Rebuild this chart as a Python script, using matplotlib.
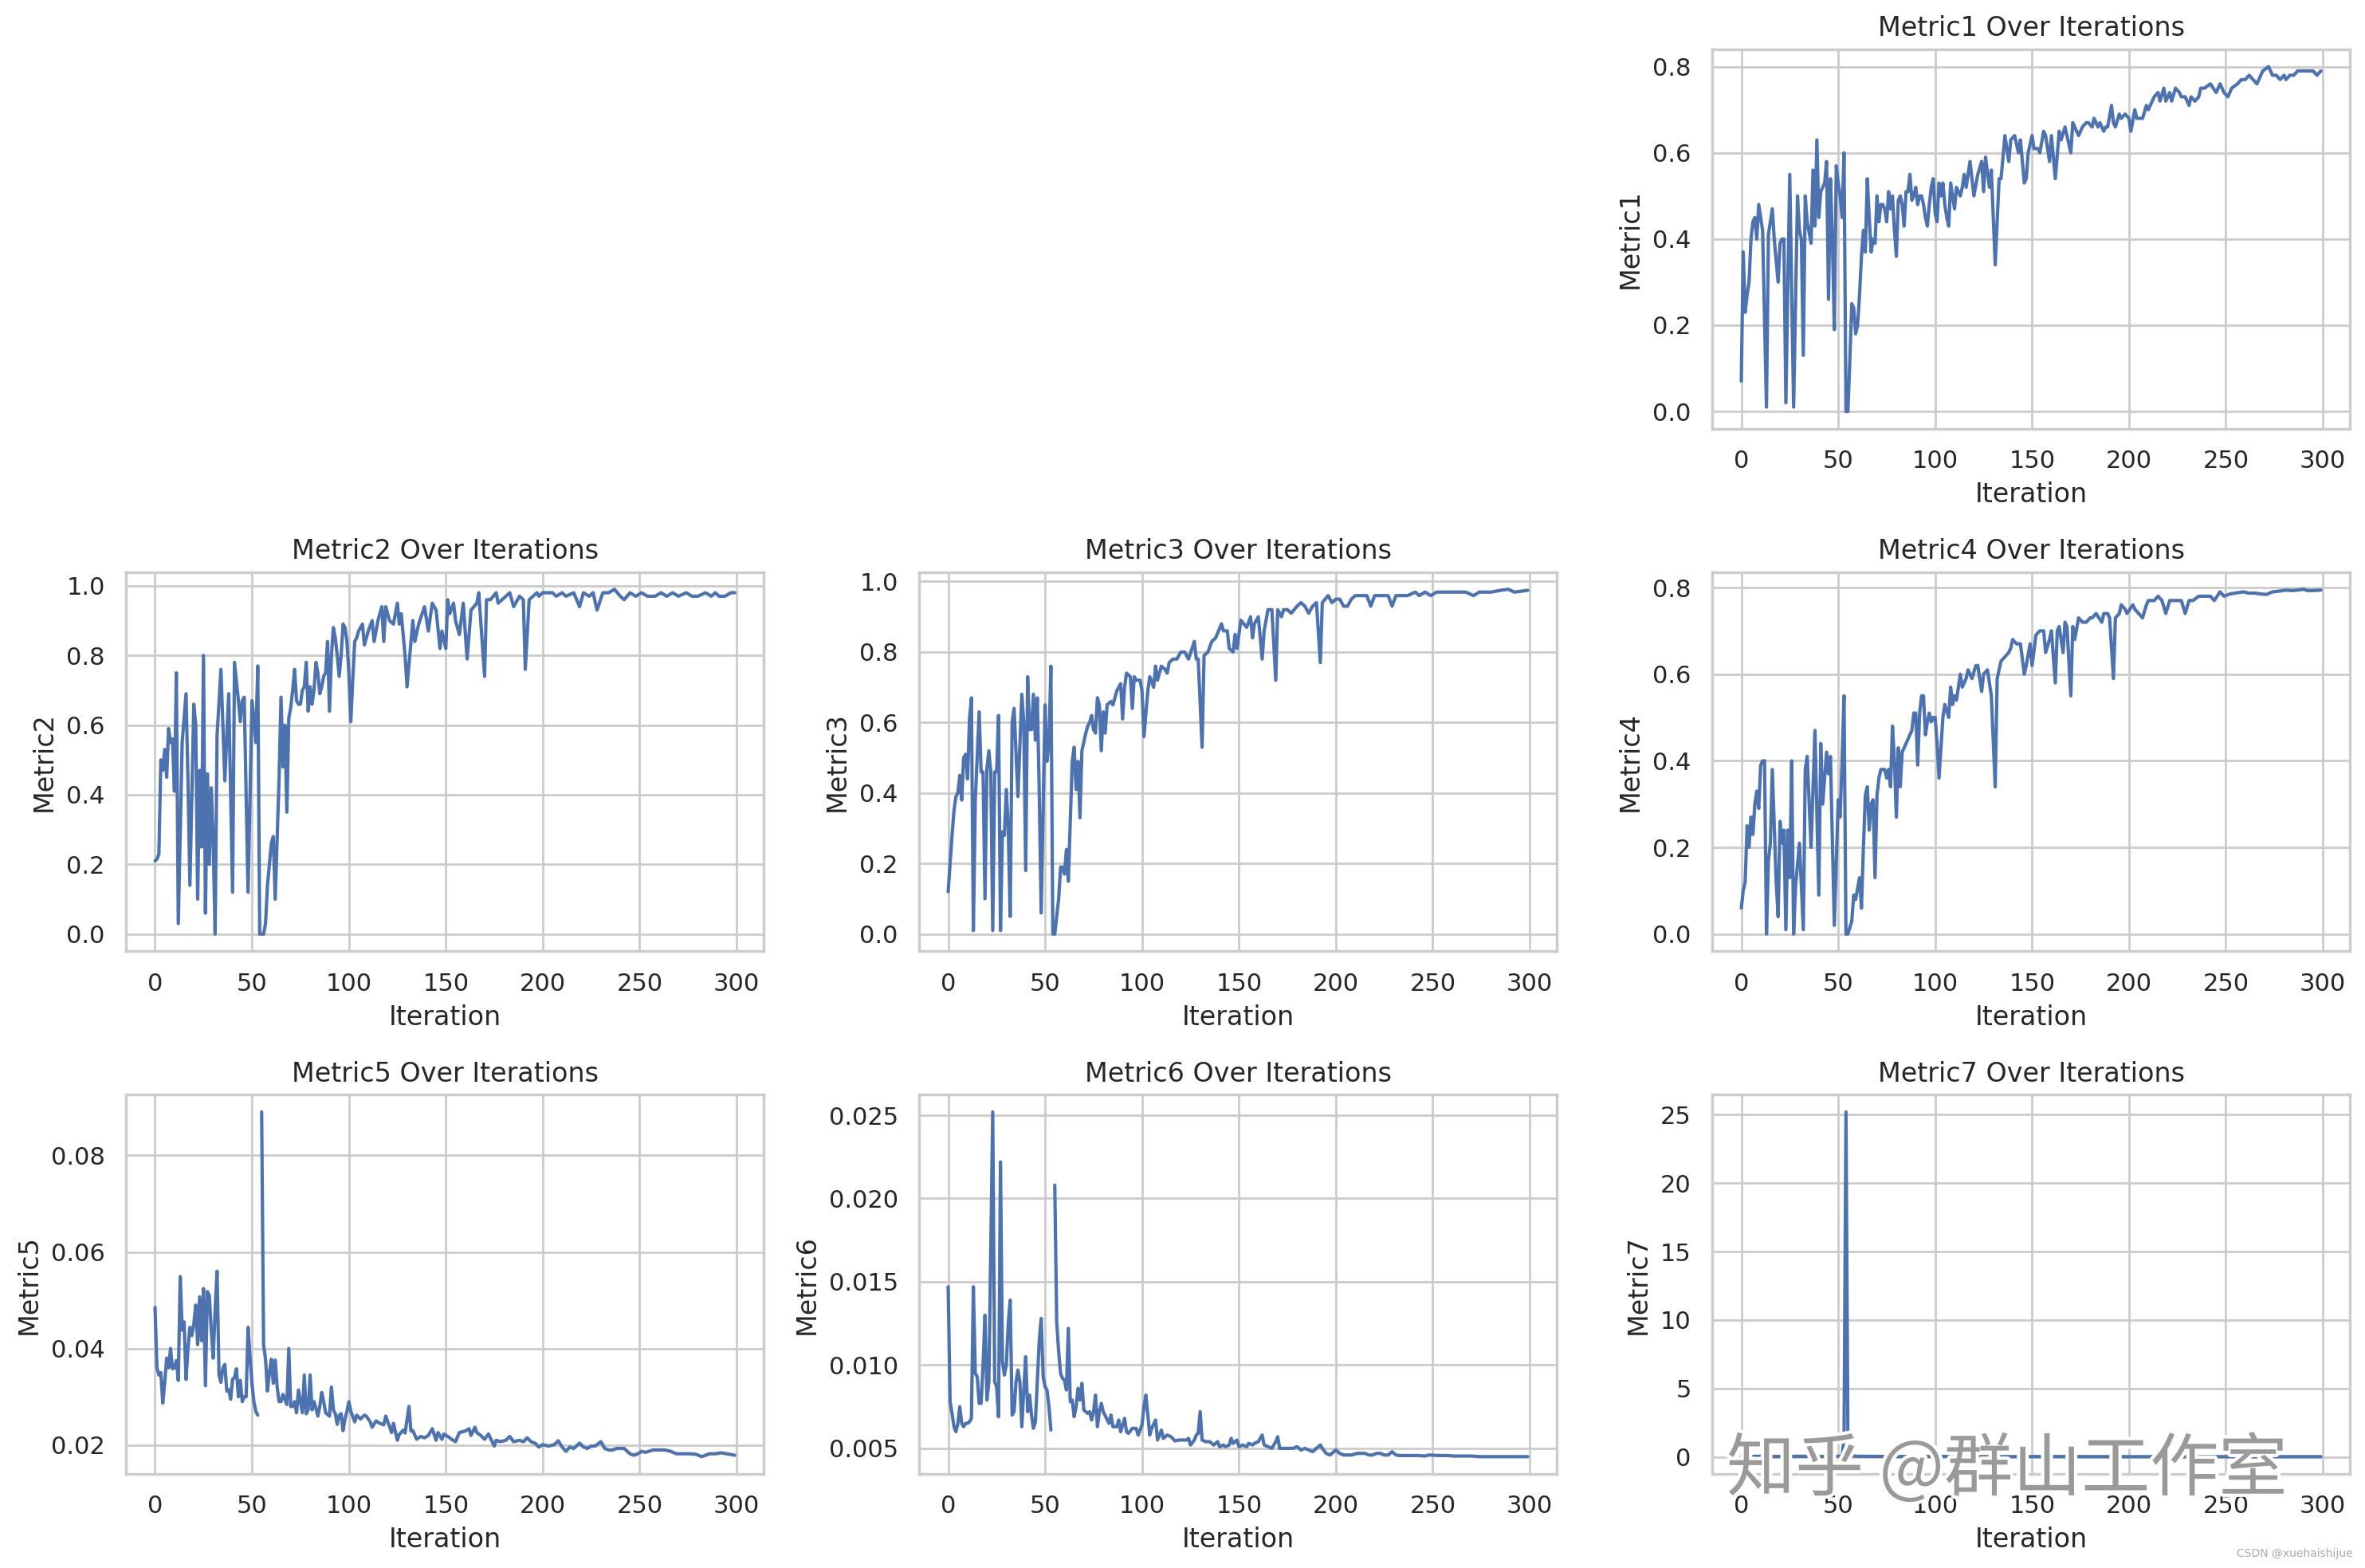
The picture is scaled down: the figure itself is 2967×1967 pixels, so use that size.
import numpy as np
import matplotlib
matplotlib.use("Agg")
import matplotlib.pyplot as plt
import matplotlib.patheffects as pe
import seaborn as sns

nan = np.nan

# (iteration, value)
metric1 = [
    (0, 0.07), (1, 0.37), (2, 0.23), (3, 0.27), (4, 0.30), (5, 0.40), (6, 0.44), (7, 0.45), (8, 0.40), (9, 0.48),
    (10, 0.45), (11, 0.42), (13, 0.01), (14, 0.41), (15, 0.44), (16, 0.47), (17, 0.40), (19, 0.30), (20, 0.39), (21, 0.40),
    (22, 0.40), (23, 0.02), (25, 0.55), (27, 0.01), (29, 0.50), (30, 0.42), (31, 0.40), (32, 0.13), (33, 0.50), (34, 0.44),
    (36, 0.39), (37, 0.56), (38, 0.43), (39, 0.63), (40, 0.45), (41, 0.51), (42, 0.52), (43, 0.53), (44, 0.58), (45, 0.26),
    (46, 0.54), (47, 0.40), (48, 0.19), (49, 0.57), (50, 0.53), (51, 0.50), (52, 0.45), (53, 0.60), (54, 0.00), (55, 0.00),
    (56, 0.12), (57, 0.25), (58, 0.24), (59, 0.18), (60, 0.20), (61, 0.27), (62, 0.36), (63, 0.42), (64, 0.37), (65, 0.54),
    (66, 0.45), (67, 0.37), (68, 0.40), (69, 0.39), (70, 0.50), (71, 0.44), (72, 0.48), (73, 0.48), (74, 0.47), (75, 0.44),
    (76, 0.51), (77, 0.47), (78, 0.50), (79, 0.42), (80, 0.36), (81, 0.49), (82, 0.50), (83, 0.48), (84, 0.43), (85, 0.51),
    (86, 0.51), (87, 0.55), (88, 0.49), (89, 0.50), (90, 0.52), (91, 0.48), (92, 0.50), (93, 0.50), (94, 0.48), (95, 0.45),
    (96, 0.43), (97, 0.48), (98, 0.52), (99, 0.54), (100, 0.46), (101, 0.44), (102, 0.53), (103, 0.50), (104, 0.53), (105, 0.48),
    (106, 0.45), (107, 0.43), (108, 0.53), (109, 0.50), (110, 0.47), (111, 0.52), (112, 0.51), (113, 0.50), (114, 0.52), (115, 0.55),
    (116, 0.52), (118, 0.58), (120, 0.50), (122, 0.55), (124, 0.58), (125, 0.51), (126, 0.59), (128, 0.52), (129, 0.56), (131, 0.34),
    (133, 0.54), (134, 0.54), (136, 0.64), (138, 0.58), (139, 0.63), (141, 0.64), (143, 0.60), (144, 0.63), (146, 0.53), (147, 0.54),
    (148, 0.60), (150, 0.64), (151, 0.61), (153, 0.61), (154, 0.60), (156, 0.65), (157, 0.64), (159, 0.58), (160, 0.64), (162, 0.54),
    (164, 0.65), (165, 0.63), (167, 0.66), (168, 0.64), (170, 0.60), (171, 0.67), (173, 0.65), (174, 0.64), (176, 0.66), (178, 0.67),
    (179, 0.67), (181, 0.66), (182, 0.68), (184, 0.66), (185, 0.67), (187, 0.65), (188, 0.66), (189, 0.66), (191, 0.71), (192, 0.67),
    (193, 0.66), (195, 0.69), (196, 0.68), (198, 0.69), (200, 0.68), (201, 0.65), (203, 0.70), (204, 0.68), (206, 0.68), (207, 0.68),
    (209, 0.71), (210, 0.70), (213, 0.73), (215, 0.74), (216, 0.72), (218, 0.75), (219, 0.72), (221, 0.74), (222, 0.72), (224, 0.75),
    (226, 0.74), (227, 0.73), (229, 0.73), (231, 0.71), (232, 0.73), (234, 0.72), (236, 0.73), (237, 0.75), (239, 0.75), (242, 0.76),
    (245, 0.74), (247, 0.76), (249, 0.74), (251, 0.73), (253, 0.75), (256, 0.76), (258, 0.77), (260, 0.77), (262, 0.78), (264, 0.77),
    (266, 0.76), (269, 0.79), (272, 0.80), (274, 0.78), (276, 0.78), (278, 0.77), (280, 0.78), (281, 0.77), (283, 0.78), (285, 0.78),
    (287, 0.79), (289, 0.79), (290, 0.79), (292, 0.79), (293, 0.79), (295, 0.79), (297, 0.78), (299, 0.79),
]

metric2 = [
    (0, 0.21), (1, 0.215), (2, 0.23), (3, 0.50), (4, 0.47), (5, 0.53), (6, 0.45), (7, 0.59), (8, 0.55), (9, 0.56),
    (10, 0.41), (11, 0.75), (12, 0.03), (14, 0.55), (15, 0.62), (16, 0.69), (17, 0.44), (18, 0.14), (20, 0.66), (21, 0.60),
    (22, 0.10), (23, 0.47), (24, 0.25), (25, 0.80), (26, 0.06), (27, 0.46), (28, 0.20), (29, 0.42), (30, 0.27), (31, 0.00),
    (32, 0.57), (34, 0.76), (36, 0.44), (38, 0.69), (40, 0.12), (41, 0.78), (43, 0.67), (44, 0.61), (45, 0.67), (46, 0.68),
    (48, 0.12), (50, 0.67), (51, 0.62), (52, 0.55), (53, 0.77), (54, 0.00), (55, 0.00), (56, 0.00), (57, 0.03), (58, 0.14),
    (60, 0.26), (61, 0.28), (62, 0.10), (64, 0.45), (65, 0.68), (66, 0.48), (67, 0.60), (68, 0.35), (69, 0.62), (70, 0.65),
    (71, 0.70), (72, 0.76), (73, 0.67), (74, 0.66), (75, 0.66), (76, 0.70), (77, 0.71), (78, 0.78), (79, 0.64), (80, 0.71),
    (81, 0.66), (82, 0.70), (83, 0.78), (84, 0.75), (85, 0.69), (86, 0.71), (87, 0.74), (88, 0.75), (89, 0.84), (90, 0.64),
    (91, 0.80), (92, 0.88), (93, 0.85), (94, 0.80), (95, 0.74), (96, 0.80), (97, 0.89), (98, 0.88), (99, 0.84), (100, 0.75),
    (101, 0.61), (102, 0.73), (103, 0.84), (104, 0.85), (105, 0.87), (107, 0.89), (108, 0.83), (110, 0.87), (112, 0.90), (113, 0.84),
    (115, 0.90), (117, 0.94), (118, 0.84), (119, 0.94), (121, 0.90), (123, 0.89), (125, 0.95), (126, 0.89), (127, 0.92), (129, 0.80),
    (130, 0.71), (133, 0.90), (134, 0.84), (136, 0.89), (139, 0.94), (141, 0.87), (143, 0.95), (145, 0.93), (147, 0.82), (148, 0.87),
    (150, 0.82), (151, 0.96), (152, 0.92), (154, 0.95), (155, 0.90), (157, 0.86), (159, 0.95), (161, 0.79), (163, 0.93), (166, 0.95),
    (167, 0.98), (170, 0.74), (171, 0.96), (173, 0.96), (176, 0.98), (177, 0.95), (179, 0.96), (181, 0.97), (183, 0.98), (185, 0.94),
    (188, 0.97), (190, 0.96), (191, 0.76), (193, 0.96), (195, 0.97), (197, 0.98), (198, 0.97), (200, 0.98), (203, 0.98), (205, 0.98),
    (207, 0.97), (210, 0.98), (212, 0.97), (216, 0.98), (219, 0.94), (221, 0.98), (224, 0.97), (226, 0.98), (228, 0.93), (231, 0.98),
    (234, 0.98), (237, 0.99), (240, 0.97), (242, 0.96), (245, 0.98), (248, 0.97), (251, 0.98), (254, 0.97), (258, 0.97), (261, 0.98),
    (264, 0.97), (267, 0.98), (270, 0.97), (274, 0.98), (277, 0.97), (280, 0.97), (284, 0.98), (287, 0.97), (289, 0.98), (291, 0.97),
    (294, 0.97), (297, 0.98), (299, 0.98),
]

metric3 = [
    (0, 0.12), (1, 0.20), (2, 0.28), (3, 0.35), (4, 0.39), (5, 0.40), (6, 0.45), (7, 0.38), (8, 0.50), (9, 0.51),
    (10, 0.44), (11, 0.61), (12, 0.67), (13, 0.01), (14, 0.38), (16, 0.63), (17, 0.46), (18, 0.46), (19, 0.10), (20, 0.47),
    (21, 0.52), (22, 0.46), (23, 0.01), (24, 0.46), (25, 0.46), (26, 0.62), (27, 0.01), (28, 0.29), (29, 0.28), (30, 0.41),
    (31, 0.30), (32, 0.05), (33, 0.60), (34, 0.64), (36, 0.39), (38, 0.68), (39, 0.60), (40, 0.18), (41, 0.73), (42, 0.58),
    (43, 0.58), (44, 0.68), (45, 0.55), (46, 0.67), (47, 0.40), (48, 0.06), (50, 0.65), (51, 0.49), (52, 0.54), (53, 0.76),
    (54, 0.00), (55, 0.00), (57, 0.10), (58, 0.19), (59, 0.19), (60, 0.17), (61, 0.24), (62, 0.15), (64, 0.49), (65, 0.53),
    (66, 0.41), (67, 0.49), (68, 0.33), (69, 0.52), (71, 0.57), (72, 0.59), (73, 0.60), (74, 0.62), (75, 0.58), (76, 0.57),
    (77, 0.67), (78, 0.65), (79, 0.52), (80, 0.63), (81, 0.57), (82, 0.65), (84, 0.66), (85, 0.65), (87, 0.69), (89, 0.71),
    (90, 0.61), (91, 0.70), (92, 0.74), (94, 0.73), (95, 0.64), (96, 0.73), (97, 0.72), (99, 0.72), (100, 0.69), (101, 0.56),
    (103, 0.69), (104, 0.73), (106, 0.70), (107, 0.76), (108, 0.72), (109, 0.74), (110, 0.76), (112, 0.75), (113, 0.74), (114, 0.77),
    (116, 0.78), (118, 0.78), (120, 0.80), (122, 0.80), (124, 0.78), (127, 0.83), (128, 0.78), (129, 0.78), (131, 0.53), (132, 0.79),
    (134, 0.80), (136, 0.83), (138, 0.84), (141, 0.88), (142, 0.86), (144, 0.86), (145, 0.81), (147, 0.80), (148, 0.85), (149, 0.81),
    (151, 0.89), (154, 0.87), (156, 0.90), (157, 0.84), (158, 0.88), (160, 0.90), (162, 0.78), (163, 0.86), (165, 0.92), (167, 0.92),
    (169, 0.72), (170, 0.92), (172, 0.90), (173, 0.92), (175, 0.92), (177, 0.91), (180, 0.93), (182, 0.94), (184, 0.93), (186, 0.91),
    (188, 0.93), (190, 0.94), (192, 0.77), (193, 0.94), (196, 0.96), (198, 0.94), (200, 0.95), (202, 0.95), (204, 0.93), (206, 0.93),
    (208, 0.95), (210, 0.96), (213, 0.96), (216, 0.96), (218, 0.93), (220, 0.96), (222, 0.96), (225, 0.96), (227, 0.96), (229, 0.93),
    (231, 0.96), (234, 0.96), (237, 0.96), (241, 0.97), (243, 0.96), (246, 0.97), (249, 0.96), (252, 0.97), (256, 0.97), (259, 0.97),
    (263, 0.97), (267, 0.97), (271, 0.96), (274, 0.97), (277, 0.97), (280, 0.97), (285, 0.975), (289, 0.978), (292, 0.97), (295, 0.972),
    (299, 0.975),
]

metric4 = [
    (0, 0.06), (1, 0.10), (2, 0.12), (3, 0.25), (4, 0.20), (5, 0.27), (6, 0.23), (7, 0.30), (8, 0.33), (9, 0.29),
    (10, 0.39), (11, 0.40), (12, 0.40), (13, 0.00), (14, 0.17), (15, 0.21), (16, 0.38), (17, 0.25), (18, 0.12), (19, 0.04),
    (20, 0.26), (21, 0.21), (22, 0.24), (23, 0.01), (24, 0.24), (25, 0.13), (26, 0.40), (27, 0.00), (28, 0.11), (30, 0.21),
    (32, 0.01), (33, 0.38), (34, 0.41), (36, 0.20), (38, 0.47), (40, 0.09), (41, 0.44), (42, 0.30), (43, 0.36), (44, 0.42),
    (45, 0.37), (46, 0.41), (48, 0.02), (50, 0.31), (51, 0.27), (52, 0.40), (53, 0.55), (54, 0.00), (55, 0.00), (57, 0.03),
    (58, 0.09), (59, 0.08), (61, 0.13), (62, 0.06), (63, 0.20), (64, 0.32), (65, 0.34), (66, 0.24), (67, 0.30), (68, 0.31),
    (69, 0.13), (70, 0.32), (71, 0.36), (72, 0.38), (73, 0.38), (74, 0.38), (75, 0.36), (76, 0.38), (77, 0.34), (78, 0.48),
    (79, 0.40), (80, 0.27), (81, 0.43), (82, 0.34), (83, 0.42), (84, 0.43), (85, 0.44), (87, 0.46), (88, 0.47), (89, 0.51),
    (90, 0.51), (91, 0.39), (92, 0.51), (93, 0.55), (94, 0.55), (95, 0.46), (96, 0.49), (97, 0.51), (98, 0.49), (99, 0.50),
    (100, 0.50), (101, 0.44), (102, 0.36), (104, 0.50), (105, 0.53), (107, 0.50), (108, 0.57), (109, 0.53), (110, 0.55), (111, 0.54),
    (113, 0.60), (114, 0.57), (116, 0.59), (117, 0.61), (119, 0.59), (121, 0.62), (122, 0.62), (124, 0.56), (125, 0.60), (127, 0.61),
    (128, 0.58), (129, 0.55), (131, 0.34), (132, 0.59), (134, 0.63), (136, 0.64), (138, 0.65), (139, 0.66), (140, 0.68), (142, 0.67),
    (144, 0.67), (146, 0.60), (147, 0.62), (149, 0.67), (150, 0.62), (152, 0.69), (154, 0.70), (156, 0.70), (157, 0.65), (159, 0.68),
    (160, 0.70), (162, 0.58), (163, 0.70), (164, 0.71), (166, 0.65), (167, 0.72), (168, 0.71), (170, 0.55), (171, 0.71), (172, 0.68),
    (174, 0.73), (176, 0.72), (178, 0.72), (180, 0.73), (181, 0.73), (183, 0.74), (186, 0.72), (187, 0.74), (189, 0.74), (190, 0.73),
    (192, 0.59), (193, 0.73), (195, 0.74), (196, 0.76), (198, 0.75), (199, 0.74), (202, 0.76), (203, 0.75), (205, 0.74), (207, 0.73),
    (209, 0.76), (210, 0.77), (213, 0.77), (215, 0.78), (217, 0.77), (219, 0.74), (221, 0.77), (223, 0.77), (225, 0.77), (227, 0.77),
    (229, 0.74), (231, 0.77), (233, 0.77), (236, 0.78), (239, 0.78), (242, 0.78), (244, 0.77), (247, 0.79), (249, 0.78), (252, 0.785),
    (256, 0.788), (259, 0.79), (262, 0.787), (265, 0.787), (268, 0.785), (271, 0.784), (274, 0.79), (278, 0.792), (281, 0.794), (284, 0.793),
    (287, 0.794), (290, 0.796), (292, 0.793), (295, 0.793), (299, 0.794),
]

metric5 = [
    (0, 0.0485), (1, 0.036), (2, 0.0345), (3, 0.035), (4, 0.0287), (5, 0.033), (6, 0.038), (7, 0.036), (8, 0.040), (9, 0.0358),
    (10, 0.036), (11, 0.0375), (12, 0.0334), (13, 0.0549), (14, 0.0438), (15, 0.0455), (16, 0.0336), (17, 0.040), (18, 0.0444), (19, 0.0427),
    (20, 0.045), (21, 0.049), (22, 0.0408), (23, 0.0507), (24, 0.0416), (25, 0.0524), (26, 0.0323), (27, 0.0518), (28, 0.051), (29, 0.044),
    (30, 0.038), (31, 0.048), (32, 0.056), (33, 0.0345), (34, 0.033), (35, 0.036), (36, 0.0367), (37, 0.0312), (38, 0.0315), (39, 0.0295),
    (40, 0.0336), (41, 0.034), (42, 0.0358), (43, 0.030), (44, 0.0334), (45, 0.029), (46, 0.030), (47, 0.030), (48, 0.0444), (49, 0.0383),
    (50, 0.0328), (51, 0.029), (52, 0.027), (53, 0.0262), (54, nan), (55, 0.089), (56, 0.0408), (57, 0.0378), (58, 0.0312), (59, 0.035),
    (60, 0.0378), (61, 0.0328), (62, 0.0376), (63, 0.032), (64, 0.029), (65, 0.029), (66, 0.0305), (68, 0.0284), (69, 0.040), (70, 0.028),
    (71, 0.028), (72, 0.029), (73, 0.0267), (74, 0.0314), (75, 0.029), (76, 0.0267), (77, 0.0345), (78, 0.0265), (79, 0.0273), (80, 0.0345),
    (81, 0.0273), (82, 0.029), (83, 0.0276), (84, 0.026), (85, 0.028), (86, 0.0309), (87, 0.029), (88, 0.0267), (90, 0.026), (91, 0.032),
    (92, 0.0273), (93, 0.0265), (94, 0.0243), (95, 0.0262), (96, 0.0265), (97, 0.023), (98, 0.0254), (99, 0.027), (100, 0.029), (101, 0.027),
    (103, 0.0248), (104, 0.0262), (106, 0.0254), (108, 0.0262), (109, 0.026), (111, 0.0248), (112, 0.0237), (114, 0.025), (116, 0.0245), (118, 0.0242),
    (119, 0.026), (121, 0.0238), (122, 0.0226), (123, 0.0245), (125, 0.021), (126, 0.0222), (128, 0.0231), (129, 0.0225), (131, 0.028), (132, 0.0229),
    (133, 0.023), (135, 0.0212), (137, 0.0218), (139, 0.0215), (141, 0.022), (143, 0.0234), (145, 0.021), (146, 0.0226), (148, 0.0212), (149, 0.0223),
    (151, 0.0218), (153, 0.0212), (155, 0.0207), (157, 0.0226), (160, 0.0229), (162, 0.0234), (163, 0.022), (165, 0.0237), (166, 0.0226), (168, 0.022),
    (170, 0.0212), (172, 0.0223), (175, 0.0198), (176, 0.021), (178, 0.0207), (181, 0.021), (183, 0.0218), (185, 0.0207), (188, 0.021), (190, 0.0207),
    (192, 0.0215), (194, 0.0207), (196, 0.0204), (198, 0.0196), (200, 0.0201), (203, 0.0198), (206, 0.0201), (208, 0.0209), (210, 0.0196), (212, 0.0187),
    (214, 0.0196), (216, 0.0193), (219, 0.0204), (221, 0.0196), (223, 0.0193), (225, 0.0198), (227, 0.0198), (230, 0.0207), (232, 0.0193), (234, 0.019),
    (236, 0.019), (238, 0.0193), (240, 0.0193), (242, 0.0193), (245, 0.0182), (247, 0.0179), (249, 0.0182), (251, 0.0187), (253, 0.0185), (257, 0.019),
    (260, 0.019), (263, 0.019), (266, 0.0187), (269, 0.0182), (273, 0.0182), (276, 0.0182), (279, 0.0181), (282, 0.0176), (286, 0.0182), (289, 0.0182),
    (292, 0.0184), (295, 0.0182), (299, 0.0179),
]

metric6 = [
    (0, 0.0147), (1, 0.0078), (2, 0.0071), (3, 0.0063), (4, 0.0060), (5, 0.0065), (6, 0.0075), (7, 0.0065), (8, 0.0063), (9, 0.0065),
    (10, 0.0065), (11, 0.0066), (12, 0.0068), (13, 0.0147), (14, 0.0095), (15, 0.0093), (16, 0.0077), (17, 0.0077), (18, 0.0100), (19, 0.0130),
    (20, 0.0079), (21, 0.0090), (23, 0.0252), (24, 0.0090), (25, 0.0087), (26, 0.0069), (27, 0.0222), (28, 0.0102), (29, 0.0094), (30, 0.0100),
    (31, 0.0125), (32, 0.0139), (33, 0.0070), (34, 0.0072), (35, 0.0090), (36, 0.0097), (37, 0.0090), (38, 0.0063), (39, 0.0085), (40, 0.0105),
    (41, 0.0072), (42, 0.0082), (43, 0.0070), (44, 0.0062), (45, 0.0066), (46, 0.0090), (47, 0.0115), (48, 0.0128), (49, 0.0093), (50, 0.0087),
    (51, 0.0085), (52, 0.0075), (53, 0.0061), (54, nan), (55, 0.0208), (56, 0.0126), (57, 0.0108), (58, 0.0095), (59, 0.0092), (60, 0.0091),
    (61, 0.0085), (62, 0.0122), (63, 0.0078), (64, 0.0079), (65, 0.0069), (66, 0.0075), (67, 0.0086), (68, 0.0079), (69, 0.0089), (70, 0.0073),
    (72, 0.0071), (73, 0.0072), (74, 0.0067), (75, 0.0072), (76, 0.0082), (77, 0.0063), (78, 0.0072), (79, 0.0077), (80, 0.0072), (83, 0.0065),
    (84, 0.0070), (85, 0.0063), (87, 0.0063), (88, 0.0067), (89, 0.0060), (91, 0.0068), (92, 0.0060), (93, 0.0059), (95, 0.0062), (97, 0.0062),
    (98, 0.0058), (100, 0.0064), (101, 0.0075), (102, 0.0082), (104, 0.0058), (105, 0.0062), (107, 0.0067), (108, 0.0055), (110, 0.0061), (111, 0.0056),
    (113, 0.0058), (115, 0.0057), (117, 0.00545), (119, 0.0055), (121, 0.0055), (123, 0.0055), (124, 0.0056), (125, 0.0052), (127, 0.0055), (128, 0.0058),
    (129, 0.0059), (130, 0.0072), (131, 0.0055), (133, 0.0054), (135, 0.0054), (137, 0.0052), (139, 0.0054), (140, 0.0051), (142, 0.0052), (143, 0.0051),
    (145, 0.0052), (146, 0.0056), (147, 0.0053), (149, 0.0055), (150, 0.0051), (152, 0.0052), (154, 0.0051), (155, 0.0053), (157, 0.0052), (158, 0.0053),
    (160, 0.0054), (162, 0.0058), (163, 0.0052), (165, 0.0051), (167, 0.0050), (169, 0.0054), (170, 0.0057), (171, 0.0050), (172, 0.0050), (174, 0.0050),
    (176, 0.0050), (178, 0.0050), (180, 0.0051), (182, 0.0049), (184, 0.0050), (186, 0.0049), (188, 0.0048), (190, 0.0050), (192, 0.0052), (193, 0.0050),
    (195, 0.0047), (197, 0.0046), (199, 0.0048), (200, 0.0049), (202, 0.0047), (204, 0.0046), (206, 0.0046), (208, 0.0046), (211, 0.0047), (213, 0.0047),
    (215, 0.0047), (217, 0.0046), (219, 0.0046), (221, 0.0047), (223, 0.0047), (225, 0.0046), (227, 0.0046), (229, 0.0048), (231, 0.0046), (233, 0.00457),
    (238, 0.00457), (242, 0.00457), (246, 0.00454), (248, 0.0046), (253, 0.00457), (257, 0.00457), (261, 0.00454), (266, 0.00454), (270, 0.00454), (274, 0.0045),
    (279, 0.0045), (283, 0.0045), (287, 0.0045), (291, 0.0045), (295, 0.0045), (299, 0.0045),
]

metric7 = [
    (0, 0.02), (10, 0.05), (20, 0.03), (30, 0.05), (40, 0.03), (50, 0.05), (52, 0.08), (53, 1.3), (54, 25.2), (55, 1.4),
    (56, 0.08), (60, 0.05), (80, 0.03), (100, 0.04), (130, 0.02), (160, 0.03), (200, 0.02), (250, 0.02), (299, 0.02),
]

# name, data, grid cell
PANELS = [
    ("Metric1", metric1, (0, 2)),
    ("Metric2", metric2, (1, 0)),
    ("Metric3", metric3, (1, 1)),
    ("Metric4", metric4, (1, 2)),
    ("Metric5", metric5, (2, 0)),
    ("Metric6", metric6, (2, 1)),
    ("Metric7", metric7, (2, 2)),
]

sns.set_theme(style="whitegrid")
plt.rcParams["font.family"] = ["DejaVu Sans", "Noto Sans CJK SC"]

fig, axes = plt.subplots(3, 3, figsize=(14.835, 9.835), dpi=200)
fig.subplots_adjust(left=0.0533, right=0.9936, top=0.9685, bottom=0.060,
                    wspace=0.244, hspace=0.378)

axes[0, 0].axis("off")
axes[0, 1].axis("off")

for name, data, (r, c) in PANELS:
    ax = axes[r, c]
    x = [p[0] for p in data]
    y = [p[1] for p in data]
    ax.plot(x, y)
    ax.set_title(f"{name} Over Iterations")
    ax.set_xlabel("Iteration")
    ax.set_ylabel(name)

# watermarks seen on the picture
fig.text(2166 / 2967, 1 - 1845 / 1967, "知乎 @群山工作室", fontsize=31,
         color="#9a9a9a", ha="left", va="center",
         family=["Noto Sans CJK SC", "DejaVu Sans"],
         path_effects=[pe.withStroke(linewidth=3, foreground="white")])
fig.text(2952 / 2967, 1 - 1949 / 1967, "CSDN @xuehaishijue", fontsize=5,
         color="#aaaaaa", ha="right", va="center")

fig.savefig("out.png", dpi=200)
